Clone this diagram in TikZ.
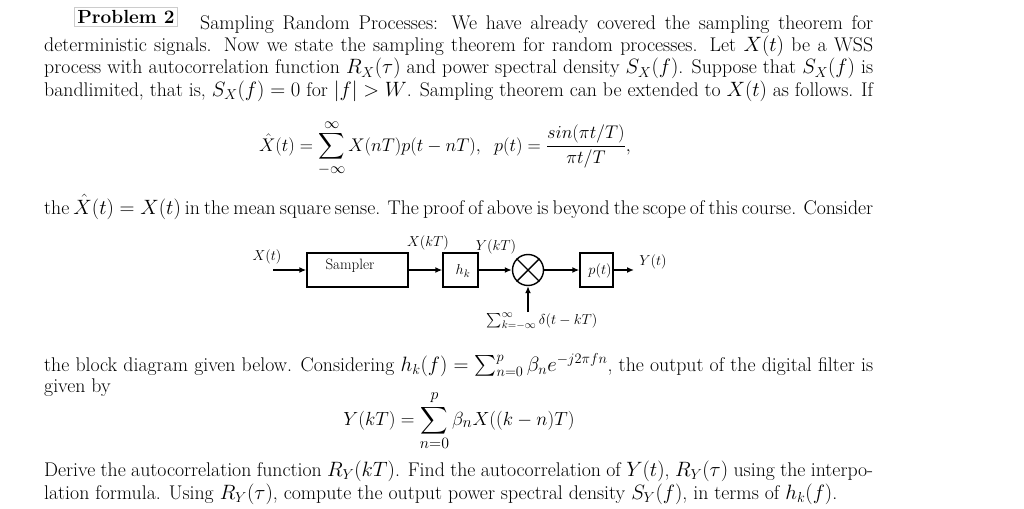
\documentclass[tikz,border=0pt]{standalone}
\usepackage{amsmath}
\usepackage{graphicx}
\usetikzlibrary{arrows.meta}
\begin{document}
\begin{tikzpicture}[x=1pt,y=-1pt,
  txt/.style={anchor=base west,inner sep=0pt,font=\fontsize{19.8}{24}\selectfont},
  eqt/.style={anchor=center,inner sep=0pt,font=\fontsize{19}{23}\selectfont},
  blk/.style={draw,line width=1.4pt,minimum height=34pt,inner sep=0pt},
  dtxt/.style={inner sep=0pt,font=\fontsize{15}{17}\selectfont},
  ar/.style={line width=1.4pt,-{Latex[length=7pt,width=6pt]}}]
\useasboundingbox (0,0) rectangle (1024,508);
\node[draw=black!20,line width=0.6pt,inner sep=3pt,font=\fontsize{19}{22}\selectfont\bfseries] (prob) at (126,17) {Problem 2};
\node[txt] (l1) at (200,30) {\makebox[673pt][s]{Sampling Random Processes: We have already covered the sampling theorem for}};
\node[txt] (l2) at (44,52) {\makebox[829pt][s]{deterministic signals. Now we state the sampling theorem for random processes. Let $X(t)$ be a WSS}};
\node[txt] (l3) at (44,74) {\makebox[829pt][s]{process with autocorrelation function $R_X(\tau)$ and power spectral density $S_X(f)$. Suppose that $S_X(f)$ is}};
\node[txt] (l4) at (44,96) {\makebox[829pt][s]{bandlimited, that is, $S_X(f)=0$ for $|f|>W$. Sampling theorem can be extended to $X(t)$ as follows. If}};
\node[eqt] (eq1) at (445,148) {\scalebox{1.06}{$\displaystyle \hat X(t)=\sum_{-\infty}^{\infty}X(nT)p(t-nT),\;\; p(t)=\frac{sin(\pi t/T)}{\pi t/T},$}};
\node[txt] (l5) at (44,214) {\makebox[829pt][s]{the $\hat X(t)=X(t)$ in the mean square sense. The proof of above is beyond the scope of this course. Consider}};
% diagram
\node[blk,minimum width=101pt] (samp) at (357.5,270) {};
\node[dtxt] (samptxt) at (350,266) {Sampler};
\node[blk,minimum width=35pt] (hk) at (460.5,270) {};
\node[dtxt] (hktxt) at (463,271) {$h_k$};
\node[draw,circle,line width=1.4pt,minimum size=31pt,inner sep=0pt] (mix) at (528,270) {};
\draw[line width=1.4pt] (mix.north west) -- (mix.south east) (mix.north east) -- (mix.south west);
\node[blk,minimum width=33pt] (pt) at (596.5,270) {};
\node[dtxt] (pttxt) at (600,271) {$p(t)$};
\coordinate (in) at (273,270);
\coordinate (out) at (634,270);
\coordinate (dl) at (528,312);
\draw[ar] (in) -- (samp);
\draw[ar] (samp) -- (hk);
\draw[ar] (hk) -- (mix);
\draw[ar] (mix) -- (pt);
\draw[ar] (pt) -- (out);
\draw[ar] (dl) -- (mix);
\node[dtxt] (lx) at (267,257) {$X(t)$};
\node[dtxt] (lxk) at (428,243) {$X(kT)$};
\node[dtxt] (lyk) at (496,247) {$Y(kT)$};
\node[dtxt] (ly) at (653,262) {$Y(t)$};
\node[dtxt] (lsum) at (542,321) {$\sum_{k=-\infty}^{\infty}\delta(t-kT)$};
\node[txt] (l6) at (44,371) {\makebox[829pt][s]{the block diagram given below. Considering $h_k(f)=\sum_{n=0}^{p}\beta_n e^{-j2\pi fn}$, the output of the digital filter is}};
\node[txt] (l7) at (44,392) {given by};
\node[eqt] (eq2) at (459,421) {\scalebox{1.1}{$\displaystyle Y(kT)=\sum_{n=0}^{p}\beta_nX((k-n)T)$}};
\node[txt] (l8) at (44,476) {\makebox[829pt][s]{Derive the autocorrelation function $R_Y(kT)$. Find the autocorrelation of $Y(t)$, $R_Y(\tau)$ using the interpo-}};
\node[txt] (l9) at (44,499) {lation formula. Using $R_Y(\tau)$, compute the output power spectral density $S_Y(f)$, in terms of $h_k(f)$.};
\end{tikzpicture}
\end{document}
